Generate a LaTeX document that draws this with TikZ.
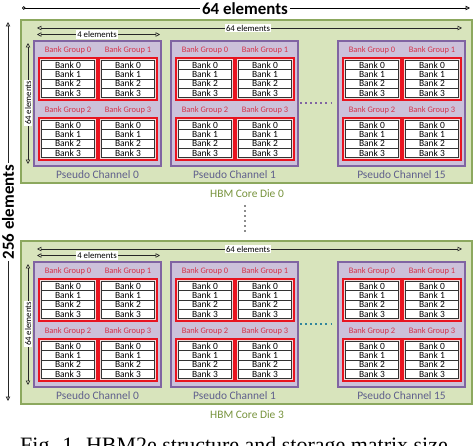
\documentclass[tikz,border=0pt]{standalone}
\usepackage{fontspec}
\setmainfont{Carlito}
\newfontfamily\capfont{Liberation Serif}
\usepackage{xcolor}
\usetikzlibrary{arrows.meta}
\definecolor{diefill}{HTML}{D8E4BC}
\definecolor{diedraw}{HTML}{8CA85E}
\definecolor{dietext}{HTML}{77933C}
\definecolor{pcfill}{HTML}{CCC1DA}
\definecolor{pcdraw}{HTML}{8064A2}
\definecolor{pctext}{HTML}{5F5F8C}
\definecolor{grpred}{HTML}{E81420}
\definecolor{grpfill}{HTML}{F2DCDB}
\definecolor{grptext}{HTML}{D6334A}
\definecolor{dotteal}{HTML}{31859C}

\begin{document}
\begin{tikzpicture}[x=0.02cm, y=-0.02cm,
  diebox/.style={draw=diedraw, fill=diefill, line width=1.1pt},
  pcbox/.style={draw=pcdraw, fill=pcfill, line width=0.9pt},
  grpbox/.style={draw=grpred, fill=grpfill, line width=1.1pt},
  bankbox/.style={draw=black!80, fill=white, line width=0.5pt},
  bankrow/.style={draw=black!80, line width=0.5pt},
  banklabel/.style={inner sep=0pt, font=\fontsize{5.4}{6}\selectfont},
  grplabel/.style={inner sep=0pt, text=grptext, font=\fontsize{4.8}{5.5}\selectfont},
  pclabel/.style={inner sep=0pt, text=pctext, font=\fontsize{6.5}{7.5}\selectfont},
  dielabel/.style={inner sep=0pt, text=dietext, font=\fontsize{6.5}{7.5}\selectfont},
  dimline/.style={line width=0.35pt, black!85, {Triangle[open,length=2.5pt,width=2.5pt]}-{Triangle[open,length=2.5pt,width=2.5pt]}},
  dimlabel/.style={fill=white, inner sep=0.6pt, font=\fontsize{5}{6}\selectfont},
  biglabel/.style={fill=white, inner sep=1pt, font=\fontsize{9.6}{11}\selectfont\bfseries},
  pcdots/.style={dotted, line width=0.9pt}
]
  \useasboundingbox (0,0) rectangle (474,446);

  % whole stack: 64 x 256 elements
  \coordinate (topl) at (22,8);
  \coordinate (topr) at (470,8);
  \draw[line width=0.45pt, {Circle[open,length=2pt]}-{Triangle[open,length=2.5pt,width=2.5pt]}] (topl) -- (topr);
  \node[biglabel] (cols) at (245,9) {64 elements};
  \coordinate (leftt) at (8,22);
  \coordinate (leftb) at (8,401);
  \draw[dimline, line width=0.45pt] (leftt) -- (leftb);
  \node[biglabel, rotate=90] (rows) at (8,212) {256 elements};

  % one core die, drawn twice
  \foreach \oy/\dn/\dc in {0/0/pcdraw, 221/3/dotteal} {
    \begin{scope}[shift={(0,\oy)}]
      \draw[diebox] (21,20) rectangle (472,183);
      \foreach \px/\pn in {34/0, 171/1, 338/15} {
        \draw[pcbox] (\px,41) rectangle +(127,125);
        \node[pclabel] (pc\dn-\pn) at (\px+63.5,175) {Pseudo Channel \pn};
        \foreach \col in {0,1} {
          \foreach \row in {0,1} {
            \pgfmathtruncatemacro{\gn}{2*\row+\col}
            \pgfmathsetmacro{\gx}{\px+5+60*\col}
            \pgfmathsetmacro{\gy}{58+60*\row}
            \node[grplabel] (grp\dn-\pn-\gn) at (\gx+29,\gy-8) {Bank Group \gn};
            \draw[grpbox] (\gx,\gy) rectangle +(58,42);
            \draw[bankbox] (\gx+2.5,\gy+2.5) rectangle +(53,37);
            \foreach \k in {1,2,3}
              \draw[bankrow] (\gx+2.5,\gy+2.5+9.25*\k) -- +(53,0);
            \foreach \k in {0,...,3}
              \node[banklabel] (bank\dn-\pn-\gn-\k) at (\gx+29,\gy+7.1+9.25*\k) {Bank \k};
          }
        }
      }
      \coordinate (dotl\dn) at (300,103);
      \coordinate (dotr\dn) at (333,103);
      \draw[pcdots, draw=\dc] (dotl\dn) -- (dotr\dn);
      % dimensions inside the die
      \coordinate (wa\dn) at (37,28);
      \coordinate (wb\dn) at (462,28);
      \draw[dimline] (wa\dn) -- (wb\dn);
      \node[dimlabel] (w\dn) at (248,28) {64 elements};
      \coordinate (ga\dn) at (37,34.5);
      \coordinate (gb\dn) at (160,34.5);
      \draw[dimline] (ga\dn) -- (gb\dn);
      \node[dimlabel] (g\dn) at (97,34.5) {4 elements};
      \coordinate (ha\dn) at (28,43);
      \coordinate (hb\dn) at (28,164);
      \draw[dimline] (ha\dn) -- (hb\dn);
      \node[dimlabel, rotate=90] (h\dn) at (28,103) {64 elements};
      \node[dielabel] (die\dn) at (247,194) {HBM Core Die \dn};
    \end{scope}
  }
  \coordinate (gapt) at (245,205);
  \coordinate (gapb) at (245,232);
  \draw[dotted, line width=0.9pt, black!45] (gapt) -- (gapb);

  \node[anchor=base, inner sep=0pt, font=\capfont\fontsize{12.5}{14}\selectfont] (cap) at (234,452)
    {Fig. 1. HBM2e structure and storage matrix size};
\end{tikzpicture}
\end{document}
